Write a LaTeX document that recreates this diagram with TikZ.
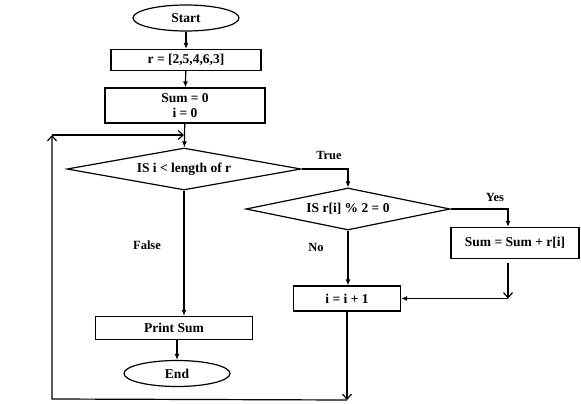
\documentclass[tikz,border=0pt]{standalone}
\usepackage{fontspec}
\setmainfont{Liberation Serif}
\usetikzlibrary{shapes.geometric,arrows.meta}

\begin{document}
\begin{tikzpicture}[x=1pt,y=1pt,yscale=-1,xscale=1,
  every node/.style={font=\fontsize{13.5}{15}\selectfont\bfseries},
  term/.style={draw,ellipse,line width=1.2pt,minimum width=106pt,minimum height=26pt,inner sep=0pt},
  stepbox/.style={draw,rectangle,line width=1.2pt,inner sep=0pt,align=center},
  decide/.style={draw,diamond,line width=1.2pt,aspect=5.5,inner sep=0pt},
  lbl/.style={font=\fontsize{12.5}{14}\selectfont\bfseries},
  flow/.style={line width=1.2pt,-{Latex[length=6pt,width=5pt]}},
  openflow/.style={line width=1.2pt,-{Straight Barb[length=5pt,width=9pt]}}]
\useasboundingbox (0,0) rectangle (581,404);

% Text Node
\node[term] (start) at (186,18) {Start};
% Text Node
\node[stepbox,minimum width=150pt,minimum height=21pt] (rlist) at (186,60) {r = [2,5,4,6,3]};
% Text Node
\node[stepbox,minimum width=160pt,minimum height=35pt] (init) at (185,105.5) {Sum = 0\\i = 0};
% Text Node
\node[decide,minimum width=234pt,minimum height=42pt] (cond1) at (184,169) {IS i < length of r};
% Text Node
\node[decide,minimum width=204pt,minimum height=42pt] (cond2) at (348,209) {IS r[i] \% 2 = 0};
% Text Node
\node[stepbox,minimum width=128pt,minimum height=31pt] (addsum) at (515,243) {Sum = Sum + r[i]};
% Text Node
\node[stepbox,minimum width=107pt,minimum height=25pt] (incr) at (347,298.5) {i = i + 1};
% Text Node
\node[stepbox,minimum width=157pt,minimum height=23pt] (psum) at (174,328) {Print Sum};
% Text Node
\node[term] (stop) at (177,373.5) {End};

% Text Node
\node[lbl] (ltrue) at (329,155) {True};
\node[lbl] (lfalse) at (147,245) {False};
\node[lbl] (lyes) at (495,197) {Yes};
\node[lbl] (lno) at (316,247) {No};

\coordinate (merge) at (508,298.5);
\coordinate (loopbr) at (347,400);
\coordinate (loopbl) at (52,399);
\coordinate (looptl) at (52,135);

%Straight Lines
\draw[flow] (start) -- (rlist);
\draw[flow] (rlist) -- (init);
\draw[flow] (init) -- (cond1);
\draw[flow] (cond1.east) -| (cond2.north);
\draw[flow] (cond1.south) -- (cond1.south |- psum.north);
\draw[flow] (stop.north |- psum.south) -- (stop.north);
\draw[flow] (cond2.east) -| ([xshift=-7pt]addsum.north);
\draw[flow] (cond2.south) -- (cond2.south |- incr.north);
\draw[openflow] ([xshift=-7pt,yshift=4pt]addsum.south) -- (merge);
\draw[flow] (merge) -- (incr.east);

%Loop back
\draw[openflow] (incr.south) -- (loopbr);
\draw[openflow] (loopbr) -- (loopbl) -- (looptl);
\draw[openflow] (looptl) -- (cond1.north |- looptl);

\end{tikzpicture}
\end{document}
